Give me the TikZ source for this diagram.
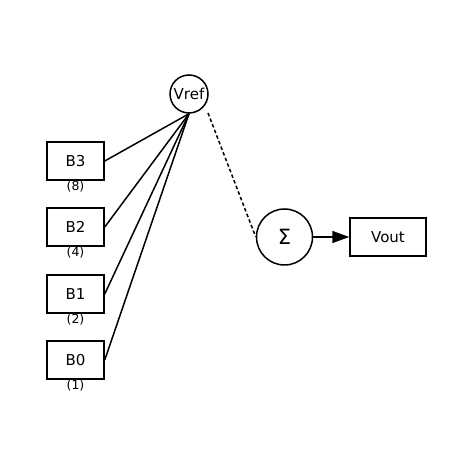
\documentclass[tikz,border=0pt]{standalone}
\usepackage{fontspec}
\setmainfont{DejaVu Sans}
\usetikzlibrary{positioning,calc,arrows.meta}
\tikzset{bitbox/.style={draw,rectangle,line width=1.5pt,minimum width=57pt,minimum height=38pt,inner sep=0pt,font=\fontsize{15}{17}\selectfont}}
\tikzset{rnode/.style={draw,circle,line width=1.5pt,inner sep=0pt}}
\tikzset{wlabel/.style={inner sep=0.5pt,font=\fontsize{12.5}{14}\selectfont}}
\tikzset{wire/.style={line width=1.5pt}}
\tikzset{>={Triangle[length=17pt,width=12pt]}}

\begin{document}
\begin{tikzpicture}[x=1pt,y=1pt]
	\useasboundingbox (0,0) rectangle (474,474);
		\node[rnode,minimum size=38pt,font=\fontsize{15}{17}\selectfont] (vref) at (189,380) {Vref};
			\node[bitbox,label={[wlabel]below:(8)}] (b3) at (75.5,313) {B3};
			\node[bitbox,label={[wlabel]below:(4)}] (b2) at (75.5,247) {B2};
			\node[bitbox,label={[wlabel]below:(2)}] (b1) at (75.5,180) {B1};
			\node[bitbox,label={[wlabel]below:(1)}] (b0) at (75.5,114) {B0};
		\node[rnode,minimum size=56pt,font=\fontsize{21}{23}\selectfont] (sum) at (284.5,237) {Σ};
		\node[bitbox,minimum width=76pt] (vout) at (388,237) {Vout};
		\coordinate (tap) at (208,361);

			\draw[wire]
				  (vref.south) edge[wire] (b3.east) edge[wire] (b2.east) edge[wire] (b1.east) edge[wire] (b0.east)
				;
			\draw[wire,dash pattern=on 3.5pt off 2.5pt] (tap) -- (sum.west);
			\draw[wire,->] (sum.east) -- (vout.west);
	\end{tikzpicture}
\end{document}
